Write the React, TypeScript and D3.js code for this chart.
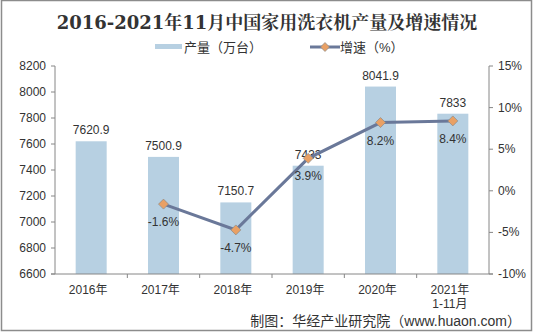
import React from "react";
import * as d3 from "d3";

const categories = ["2016年", "2017年", "2018年", "2019年", "2020年", "2021年\n1-11月"];
const production = [7620.9, 7500.9, 7150.7, 7433, 8041.9, 7833];
const growth: (number | null)[] = [null, -1.6, -4.7, 3.9, 8.2, 8.4];
const leftTicks = [6600, 6800, 7000, 7200, 7400, 7600, 7800, 8000, 8200];
const rightTicks = [-10, -5, 0, 5, 10, 15];

const W = 534, H = 335;
const left = 55, right = 489, top = 66, bottom = 274;
const FONT = "'Liberation Sans', Arial, 'Noto Sans CJK SC', sans-serif";

export default function App() {
  const x = d3.scaleBand<string>().domain(categories).range([left, right]);
  const yL = d3.scaleLinear().domain([6600, 8200]).range([bottom, top]);
  const yR = d3.scaleLinear().domain([-10, 15]).range([bottom, top]);
  const bw = 31;
  const pts = categories
    .map((c, i) => ({ c, g: growth[i] }))
    .filter((d) => d.g !== null) as { c: string; g: number }[];
  const line = d3
    .line<{ c: string; g: number }>()
    .x((d) => x(d.c)! + x.bandwidth() / 2)
    .y((d) => yR(d.g));
  const diamond = (cx: number, cy: number, r: number) =>
    `M${cx},${cy - r}L${cx + r},${cy}L${cx},${cy + r}L${cx - r},${cy}Z`;
  const barColor = "#b7d0e2";
  const lineColor = "#6a7899";
  const markerFill = "#e9a064";
  const axisColor = "#868686";

  return (
    <div style={{ position: "absolute", left: 0, top: 0 }}>
      <svg width={W} height={H} style={{ display: "block", background: "#fff" }}>
        <rect x={1.5} y={0.5} width={530} height={330} fill="#fff" stroke="#8c8c8c" strokeWidth={1.5} />
        <text x={267} y={29} textAnchor="middle" fontSize={18} fontWeight="bold"
          fontFamily="'DejaVu Serif', 'Noto Serif CJK SC', 'Noto Sans CJK SC', serif" fill="#333">
          2016-2021年11月中国家用洗衣机产量及增速情况
        </text>
        {/* legend */}
        <rect x={155} y={44} width={27} height={5} fill={barColor} />
        <text x={184} y={52} fontSize={13} fontFamily={FONT} fill="#333">产量（万台）</text>
        <line x1={310} y1={47} x2={340} y2={47} stroke={lineColor} strokeWidth={3} />
        <path d={diamond(325, 47, 4.5)} fill={markerFill} stroke="#8a8a8a" strokeWidth={0.7} />
        <text x={340} y={52} fontSize={13} fontFamily={FONT} fill="#333">增速（%）</text>

        {/* bars */}
        {production.map((v, i) => {
          const cx = x(categories[i])! + x.bandwidth() / 2;
          return (
            <g key={i}>
              <rect x={cx - bw / 2} y={yL(v)} width={bw} height={bottom - yL(v)} fill={barColor} />
              <text x={cx} y={yL(v) - 7} textAnchor="middle" fontSize={12} fontFamily={FONT} fill="#333">
                {String(v)}
              </text>
            </g>
          );
        })}

        {/* axes */}
        <line x1={left} y1={top} x2={left} y2={bottom} stroke={axisColor} />
        <line x1={right} y1={top} x2={right} y2={bottom} stroke={axisColor} />
        <line x1={left - 4} y1={bottom} x2={right + 4} y2={bottom} stroke={axisColor} />
        {leftTicks.map((t) => (
          <g key={"l" + t}>
            <line x1={left - 4} x2={left} y1={yL(t)} y2={yL(t)} stroke={axisColor} />
            <text x={left - 9} y={yL(t) + 4} textAnchor="end" fontSize={12} fontFamily={FONT} fill="#333">{t}</text>
          </g>
        ))}
        {rightTicks.map((t) => (
          <g key={"r" + t}>
            <line x1={right} x2={right + 4} y1={yR(t)} y2={yR(t)} stroke={axisColor} />
            <text x={right + 9} y={yR(t) + 4} fontSize={12} fontFamily={FONT} fill="#333">{t}%</text>
          </g>
        ))}
        {categories.map((c, i) => {
          const x0 = x(c)!;
          const cx = x0 + x.bandwidth() / 2;
          const lines = c.split("\n");
          return (
            <g key={"c" + i}>
              {i > 0 && <line x1={x0} x2={x0} y1={bottom} y2={bottom + 4} stroke={axisColor} />}
              {lines.map((s, j) => (
                <text key={j} x={cx - 3} y={bottom + 20 + j * 14} textAnchor="middle" fontSize={12}
                  fontFamily={FONT} fill="#333">{s}</text>
              ))}
            </g>
          );
        })}

        {/* line */}
        <path d={line(pts) || ""} fill="none" stroke={lineColor} strokeWidth={3} />
        {pts.map((d, i) => {
          const cx = x(d.c)! + x.bandwidth() / 2;
          const cy = yR(d.g);
          return (
            <g key={"p" + i}>
              <path d={diamond(cx, cy, 5)} fill={markerFill} stroke="#8a8a8a" strokeWidth={0.7} />
              <text x={cx} y={cy + 22} textAnchor="middle" fontSize={12} fontFamily={FONT} fill="#333">
                {d.g}%
              </text>
            </g>
          );
        })}

        {/* footer */}
        <text x={521} y={326} textAnchor="end" fontSize={14} fontFamily={FONT} fill="#333">
          制图：华经产业研究院（www.huaon.com）
        </text>
      </svg>
    </div>
  );
}
